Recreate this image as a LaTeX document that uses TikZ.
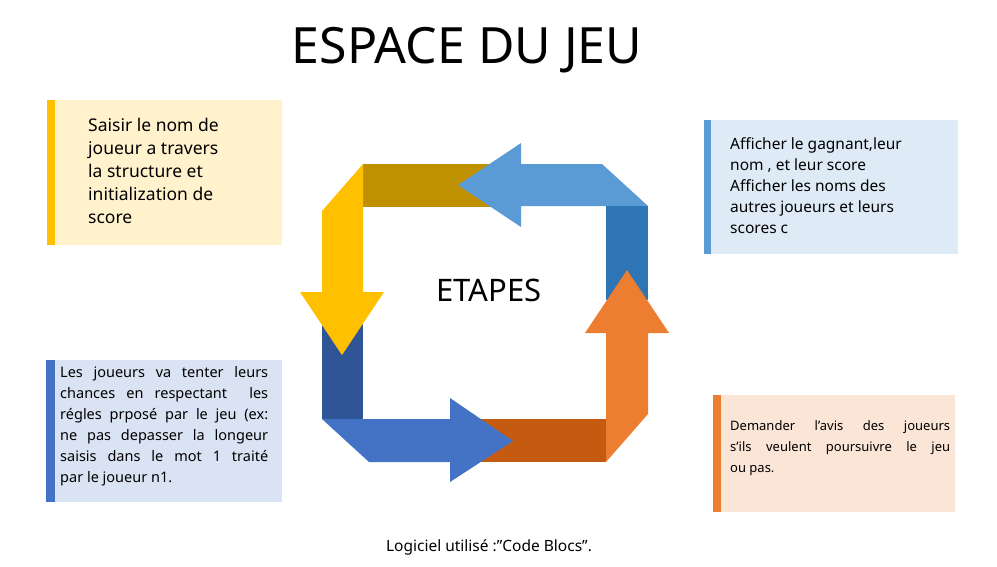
\documentclass[tikz,border=0pt]{standalone}
\usepackage{fontspec}
\setmainfont{Noto Sans}
\definecolor{cYel}{HTML}{FFC000}
\definecolor{cBrn}{HTML}{BF9000}
\definecolor{cLbl}{HTML}{5B9BD5}
\definecolor{cMbl}{HTML}{2E75B6}
\definecolor{cOrg}{HTML}{ED7D31}
\definecolor{cDor}{HTML}{C55A11}
\definecolor{cBlu}{HTML}{4472C4}
\definecolor{cNav}{HTML}{2F5597}
\definecolor{fYel}{HTML}{FFF2CC}
\definecolor{fBlu}{HTML}{DEEBF7}
\definecolor{fBl2}{HTML}{DAE3F3}
\definecolor{fOrg}{HTML}{FBE5D6}
\newcommand{\jl}[2]{\makebox[#1][s]{#2}}
\begin{document}
\begin{tikzpicture}[x=1pt,y=-1pt,
  txt/.style={anchor=north west,inner sep=0pt,align=left}]
\useasboundingbox (0,0) rectangle (997,566);
\fill[white] (0,0) rectangle (997,566);
% title
\node[font=\fontsize{50}{58}\selectfont] (title) at (467,50) {ESPACE DU JEU};
% cycle bands
\fill[cBrn] (363,164) rectangle (500,207);
\fill[cMbl] (606,206) rectangle (648,300);
\fill[cDor] (480,419) rectangle (606,462);
\fill[cNav] (322,320) rectangle (363,419);
% arrows
\fill[cLbl] (458,185) -- (521,143) -- (521,164) -- (602,164) -- (648,206) -- (521,206) -- (521,227) -- cycle;
\fill[cOrg] (627,270) -- (669,333) -- (648,333) -- (648,414) -- (606,462) -- (606,333) -- (585,333) -- cycle;
\fill[cBlu] (513,441) -- (450,398) -- (450,419) -- (322,419) -- (369,462) -- (450,462) -- (450,482) -- cycle;
\fill[cYel] (342,355) -- (300,292) -- (322,292) -- (322,211) -- (363,164) -- (363,292) -- (384,292) -- cycle;
\node[font=\fontsize{31}{36}\selectfont] (etapes) at (489,290) {ETAPES};
% boxes
\fill[fYel] (47,100) rectangle (282,245);
\fill[cYel] (47,100) rectangle (55,245);
\node[txt,font=\fontsize{17.5}{23}\selectfont] (t1) at (88,118) {Saisir le nom de\\joueur a travers\\la structure et\\initialization de\\score};
\fill[fBlu] (704,120) rectangle (958,254);
\fill[cLbl] (704,120) rectangle (711,254);
\node[txt,font=\fontsize{15.5}{21}\selectfont] (t2) at (730,137) {Afficher le gagnant,leur\\nom , et leur score\\Afficher les noms des\\autres joueurs et leurs\\scores c};
\fill[fBl2] (46,360) rectangle (282,502);
\fill[cBlu] (46,360) rectangle (55,502);
\node[txt,font=\fontsize{14.5}{21}\selectfont] (t3) at (60,366) {%
\jl{208pt}{Les joueurs va tenter leurs}\\
\jl{208pt}{chances en respectant\ \ les}\\
\jl{208pt}{régles prposé par le jeu (ex:}\\
\jl{208pt}{ne pas depasser la longeur}\\
\jl{208pt}{saisis dans le mot 1 traité}\\
par le joueur n1.};
\fill[fOrg] (713,395) rectangle (955,512);
\fill[cOrg] (713,395) rectangle (721,512);
\node[txt,font=\fontsize{13}{21}\selectfont] (t4) at (730,420) {%
\jl{220pt}{Demander l'avis des joueurs}\\
\jl{220pt}{s'ils veulent poursuivre le jeu}\\
ou pas.};
\node[font=\fontsize{15.5}{18}\selectfont] (foot) at (489,547) {Logiciel utilisé :"Code Blocs".};
\end{tikzpicture}
\end{document}
